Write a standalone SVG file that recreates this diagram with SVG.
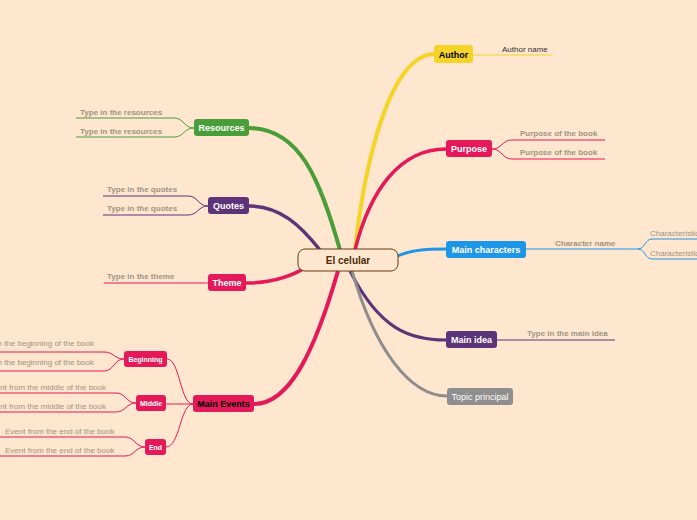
<svg xmlns="http://www.w3.org/2000/svg" width="697" height="520" viewBox="0 0 697 520">
<style>
.t{font-family:"Liberation Sans",Arial,sans-serif;font-size:9px;font-weight:bold;fill:#fff}
.s{font-family:"Liberation Sans",Arial,sans-serif;font-size:8px;font-weight:bold;fill:#a09482}
.s2{font-family:"Liberation Sans",Arial,sans-serif;font-size:8px;fill:#a09482}
.c path{fill:none}
</style>
<rect width="697" height="520" fill="#fee6cf"/>
<g class="c" id="connectors">
<path d="M355,250 C365,160 390,56 434,54" stroke="#f5d327" stroke-width="4"/>
<path d="M473,55 H552" stroke="#f5d327" stroke-width="1"/>
<path d="M355,250 C370,190 400,149 446,149" stroke="#e5195a" stroke-width="3.5"/>
<path d="M492,149 C502,149 502,140 512,140 H605 M492,149 C502,149 502,159 512,159 H605" stroke="#e5195a" stroke-width="1"/>
<path d="M395,257 C410,250 425,249 446,249" stroke="#1e96e8" stroke-width="3"/>
<path d="M525,249 H638 C645,249 645,239 652,239 H697 M638,249 C645,249 645,259 652,259 H697" stroke="#1e96e8" stroke-width="1"/>
<path d="M350,271 C380,330 410,340 446,340" stroke="#5c3477" stroke-width="3"/>
<path d="M497,340 H615" stroke="#5c3477" stroke-width="1"/>
<path d="M352,271 C375,350 410,396 447,396" stroke="#8e8e8e" stroke-width="3"/>
<path d="M340,250 C320,180 300,128 249,128" stroke="#4a9e3a" stroke-width="4"/>
<path d="M194,128 C184,128 184,118 174,118 H76 M194,128 C184,128 184,137 174,137 H76" stroke="#4a9e3a" stroke-width="1"/>
<path d="M320,250 C300,225 280,206 249,206" stroke="#5c3477" stroke-width="3.5"/>
<path d="M208,206 C198,206 198,196 188,196 H103 M208,206 C198,206 198,215 188,215 H103" stroke="#5c3477" stroke-width="1"/>
<path d="M310,265 C290,278 270,283 246,283" stroke="#e5195a" stroke-width="3.5"/>
<path d="M208,283 H104" stroke="#e5195a" stroke-width="1"/>
<path d="M338,271 C315,350 290,404 254,404" stroke="#e5195a" stroke-width="4"/>
<path d="M193,404 C180,404 180,359 167,359 M193,404 H166 M193,404 C180,404 180,447 166,447" stroke="#e5195a" stroke-width="1"/>
<path d="M124,359 C114,359 114,352 104,352 H0 M124,359 C114,359 114,371 104,371 H0" stroke="#e5195a" stroke-width="1"/>
<path d="M136,403 C126,403 126,393 116,393 H0 M136,403 C126,403 126,412 116,412 H0" stroke="#e5195a" stroke-width="1"/>
<path d="M145,447 C135,447 135,437 125,437 H0 M145,447 C135,447 135,456 125,456 H0" stroke="#e5195a" stroke-width="1"/>
</g>
<g id="center"><rect x="298" y="249" width="100" height="22" rx="7" fill="#fee6cf" stroke="#6b3a10" stroke-width="1"/><text x="348" y="264" text-anchor="middle" font-family="Liberation Sans,Arial,sans-serif" font-size="10" font-weight="bold" fill="#4a2a0a">El celular</text></g>
<g id="author"><rect x="434" y="45" width="39" height="18" rx="3" fill="#f5d327"/><text class="t" x="453.5" y="58" text-anchor="middle" style="fill:#000">Author</text><text class="s2" x="502" y="52" style="fill:#333">Author name</text></g>
<g id="purpose"><rect x="446" y="140" width="46" height="17" rx="3" fill="#e5195a"/><text class="t" x="469" y="152" text-anchor="middle">Purpose</text><text class="s" x="520" y="136">Purpose of the book</text><text class="s" x="520" y="155">Purpose of the book</text></g>
<g id="characters"><rect x="446" y="241" width="80" height="17" rx="3" fill="#1e96e8"/><text class="t" x="486" y="253" text-anchor="middle">Main characters</text><text class="s" x="555" y="246">Character name</text><text class="s2" x="650" y="236">Characteristic</text><text class="s2" x="650" y="256">Characteristic</text></g>
<g id="idea"><rect x="446" y="331" width="51" height="17" rx="3" fill="#5c3477"/><text class="t" x="471.5" y="343" text-anchor="middle">Main idea</text><text class="s" x="527" y="336">Type in the main idea</text></g>
<g id="topic"><rect x="447" y="388" width="66" height="17" rx="3" fill="#8e8e8e"/><text class="t" x="480" y="400" text-anchor="middle" style="font-weight:normal">Topic principal</text></g>
<g id="resources"><rect x="194" y="119" width="55" height="17" rx="3" fill="#4a9e3a"/><text class="t" x="221.5" y="131" text-anchor="middle">Resources</text><text class="s" x="80" y="115">Type in the resources</text><text class="s" x="80" y="134">Type in the resources</text></g>
<g id="quotes"><rect x="208" y="197" width="41" height="17" rx="3" fill="#5c3477"/><text class="t" x="228.5" y="209" text-anchor="middle">Quotes</text><text class="s" x="107" y="192">Type in the quotes</text><text class="s" x="107" y="211">Type in the quotes</text></g>
<g id="theme"><rect x="208" y="274" width="38" height="17" rx="3" fill="#e5195a"/><text class="t" x="227" y="286" text-anchor="middle">Theme</text><text class="s" x="107" y="279">Type in the theme</text></g>
<g id="events"><rect x="193" y="395" width="61" height="17" rx="3" fill="#e5195a"/><text class="t" x="223.5" y="407" text-anchor="middle" style="fill:#000">Main Events</text></g>
<g id="beginning"><rect x="124" y="351" width="43" height="16" rx="3" fill="#e5195a"/><text class="t" x="145.5" y="362" text-anchor="middle" style="font-size:7px">Beginning</text><text class="s2" x="94" y="346" text-anchor="end">Event from the beginning of the book</text><text class="s2" x="94" y="365" text-anchor="end">Event from the beginning of the book</text></g>
<g id="middle"><rect x="136" y="395" width="30" height="16" rx="3" fill="#e5195a"/><text class="t" x="151" y="406" text-anchor="middle" style="font-size:7px">Middle</text><text class="s2" x="106" y="390" text-anchor="end">Event from the middle of the book</text><text class="s2" x="106" y="409" text-anchor="end">Event from the middle of the book</text></g>
<g id="end"><rect x="145" y="439" width="21" height="16" rx="3" fill="#e5195a"/><text class="t" x="155.5" y="450" text-anchor="middle" style="font-size:7px">End</text><text class="s2" x="5" y="434">Event from the end of the book</text><text class="s2" x="5" y="453">Event from the end of the book</text></g>
</svg>
